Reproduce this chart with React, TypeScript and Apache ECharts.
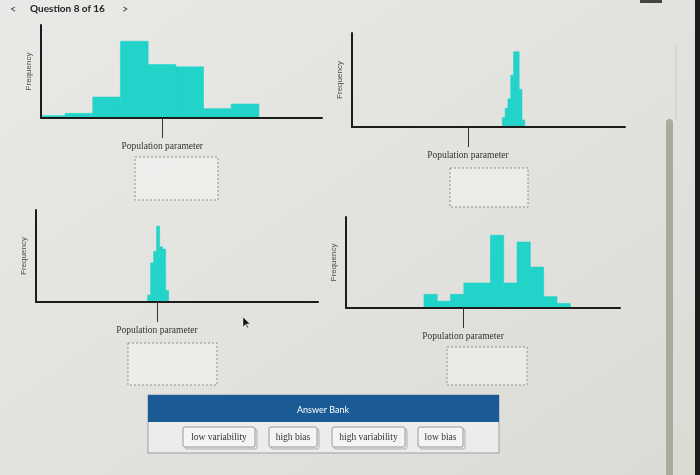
import React, { useEffect, useRef } from "react";
import * as echarts from "echarts";

// Histogram data (frequency counts per bin, bin width = 1 x-unit)
const hist1Counts = [1, 2, 9, 33, 23, 22, 4, 6];
const hist2Counts = [4, 8, 12, 22, 32, 32, 16, 3];
const hist3Counts = [3, 17, 22, 33, 24, 23, 5];
const hist4Counts = [6, 3, 6, 11, 11, 32, 11, 29, 18, 5, 2];
const binStarts = [-0.13, 53.7, 37.2, 5.86];
const parameterValues = [4.38, 41.4, 40.3, 8.8];
const xMaxes = [10.15, 97.5, 94, 20.6];
const yMax = 40;
const axisLabelText = "Population parameter";
const yAxisName = "Frequency";
const answers = ["low variability", "high bias", "high variability", "low bias"];

const grids = [
  { left: 41, top: 25, width: 281, height: 93 },
  { left: 352, top: 33, width: 273, height: 94 },
  { left: 36, top: 210, width: 282, height: 92 },
  { left: 346, top: 217, width: 274, height: 91 },
];

const BAR = "#22d3c9";

export default function App() {
  const ref = useRef<HTMLDivElement>(null);
  useEffect(() => {
    if (!ref.current) return;
    const chart = echarts.init(ref.current, undefined, { renderer: "svg" });
    const allCounts = [hist1Counts, hist2Counts, hist3Counts, hist4Counts];

    const xAxis = grids.map((_, i) => ({
      type: "value",
      gridIndex: i,
      min: 0,
      max: xMaxes[i],
      z: 5,
      splitLine: { show: false },
      axisLine: { show: true, lineStyle: { color: "#1c1c1c", width: 2 } },
      axisTick: {
        show: true,
        customValues: [parameterValues[i]],
        length: 20,
        lineStyle: { color: "#333", width: 1 },
      },
      axisLabel: {
        show: true,
        customValues: [parameterValues[i]],
        formatter: () => axisLabelText,
        margin: 23,
        fontFamily: "Liberation Serif",
        fontSize: 9.5,
        color: "#333",
      },
    }));
    const yAxis = grids.map((_, i) => ({
      type: "value",
      gridIndex: i,
      min: 0,
      max: yMax,
      z: 5,
      splitLine: { show: false },
      axisTick: { show: false },
      axisLabel: { show: false },
      axisLine: { show: true, lineStyle: { color: "#1c1c1c", width: 2 } },
      name: yAxisName,
      nameLocation: "middle",
      nameRotate: 90,
      nameGap: 9,
      nameTextStyle: { fontSize: 8, color: "#4a4a4a", fontFamily: "Liberation Sans" },
    }));
    const series = allCounts.map((counts, i) => ({
      type: "custom",
      xAxisIndex: i,
      yAxisIndex: i,
      z: 2,
      encode: { x: [0, 1], y: 2 },
      data: counts.map((c, k) => [binStarts[i] + k, binStarts[i] + k + 1, c]),
      renderItem: (params: any, api: any) => {
        const p0 = api.coord([api.value(0), api.value(2)]);
        const p1 = api.coord([api.value(1), 0]);
        const cs = params.coordSys;
        const r = echarts.graphic.clipRectByRect(
          { x: p0[0], y: p0[1], width: p1[0] - p0[0], height: p1[1] - p0[1] },
          { x: cs.x, y: cs.y, width: cs.width, height: cs.height }
        );
        if (!r) return null;
        return { type: "rect", shape: r, style: { fill: BAR, stroke: BAR, lineWidth: 0.6 } };
      },
    }));

    const dashedBoxes = [
      [135, 157, 83, 43],
      [450, 168, 78, 39],
      [128, 343, 89, 42],
      [447, 347, 80, 38],
    ].map(([x, y, w, h]) => ({
      type: "rect",
      z: 1,
      shape: { x, y, width: w, height: h },
      style: { fill: "rgba(245,245,243,0.5)", stroke: "#8f8f8f", lineWidth: 1, lineDash: [2, 2] },
    }));

    const btns = [
      [183, 72],
      [269, 48],
      [332, 73],
      [418, 45],
    ];
    const buttonEls: any[] = [];
    btns.forEach(([x, w], i) => {
      buttonEls.push({
        type: "rect",
        z: 1,
        shape: { x: x + 2, y: 429, width: w, height: 20, r: 2 },
        style: { fill: "#e6e6e4", stroke: "#b0b0b0", lineWidth: 1 },
      });
      buttonEls.push({
        type: "rect",
        z: 1,
        shape: { x, y: 427, width: w, height: 20, r: 2 },
        style: { fill: "#f4f4f2", stroke: "#9a9a9a", lineWidth: 1 },
      });
      buttonEls.push({
        type: "text",
        z: 2,
        x: x + w / 2,
        y: 437,
        style: {
          text: answers[i],
          fontFamily: "Liberation Serif",
          fontSize: 9.5,
          fill: "#333",
          align: "center",
          verticalAlign: "middle",
        },
      });
    });

    chart.setOption({
      animation: false,
      grid: grids.map((g) => ({ ...g, containLabel: false })),
      xAxis,
      yAxis,
      series,
      graphic: [
        {
          type: "rect",
          z: -10,
          silent: true,
          shape: { x: 0, y: 0, width: 700, height: 475 },
          style: {
            fill: {
              type: "linear",
              x: 0,
              y: 0,
              x2: 1,
              y2: 1,
              colorStops: [
                { offset: 0, color: "#e9e9e7" },
                { offset: 1, color: "#dbdbd6" },
              ],
            },
          },
        },
        {
          type: "text",
          x: 10,
          y: 8,
          style: { text: "<", fontFamily: "Lato", fontSize: 11, fill: "#444", verticalAlign: "middle" },
        },
        {
          type: "text",
          x: 30,
          y: 8,
          style: {
            text: "Question 8 of 16",
            fontFamily: "Lato",
            fontWeight: "bold",
            fontSize: 10,
            fill: "#222",
            verticalAlign: "middle",
          },
        },
        {
          type: "text",
          x: 122,
          y: 8,
          style: { text: ">", fontFamily: "Lato", fontSize: 11, fill: "#444", verticalAlign: "middle" },
        },
        ...dashedBoxes,
        // answer bank
        {
          type: "rect",
          z: 0,
          shape: { x: 148, y: 395, width: 351, height: 58 },
          style: { fill: "#ececea", stroke: "#9aa0a6", lineWidth: 1 },
        },
        {
          type: "rect",
          z: 0,
          shape: { x: 148, y: 395, width: 351, height: 27 },
          style: { fill: "#1a5b96" },
        },
        {
          type: "text",
          z: 1,
          x: 323,
          y: 409,
          style: {
            text: "Answer Bank",
            fontFamily: "Lato",
            fontSize: 9,
            fill: "#ffffff",
            align: "center",
            verticalAlign: "middle",
          },
        },
        ...buttonEls,
        // cursor
        {
          type: "polygon",
          z: 3,
          shape: { points: [[243, 317], [243, 327], [245.5, 324.5], [247.5, 328], [248.5, 327.5], [246.5, 324], [250, 324]] },
          style: { fill: "#111", stroke: "#eee", lineWidth: 0.5 },
        },
        // scrollbar and screen edge
        {
          type: "line",
          z: 0,
          shape: { x1: 676, y1: 45, x2: 676, y2: 120 },
          style: { stroke: "#c9c9c2", lineWidth: 1 },
        },
        {
          type: "rect",
          z: 0,
          shape: { x: 666, y: 119, width: 7, height: 360, r: 3.5 },
          style: { fill: "#a8ac9b" },
        },
        {
          type: "rect",
          z: 0,
          shape: { x: 695, y: 0, width: 5, height: 475 },
          style: { fill: "#1d1d1d" },
        },
        {
          type: "rect",
          z: 0,
          shape: { x: 640, y: 0, width: 22, height: 3 },
          style: { fill: "#444" },
        },
      ],
    });
    return () => chart.dispose();
  }, []);
  return (
    <div
      ref={ref}
      style={{ position: "fixed", left: 0, top: 0, width: 700, height: 475 }}
    />
  );
}
